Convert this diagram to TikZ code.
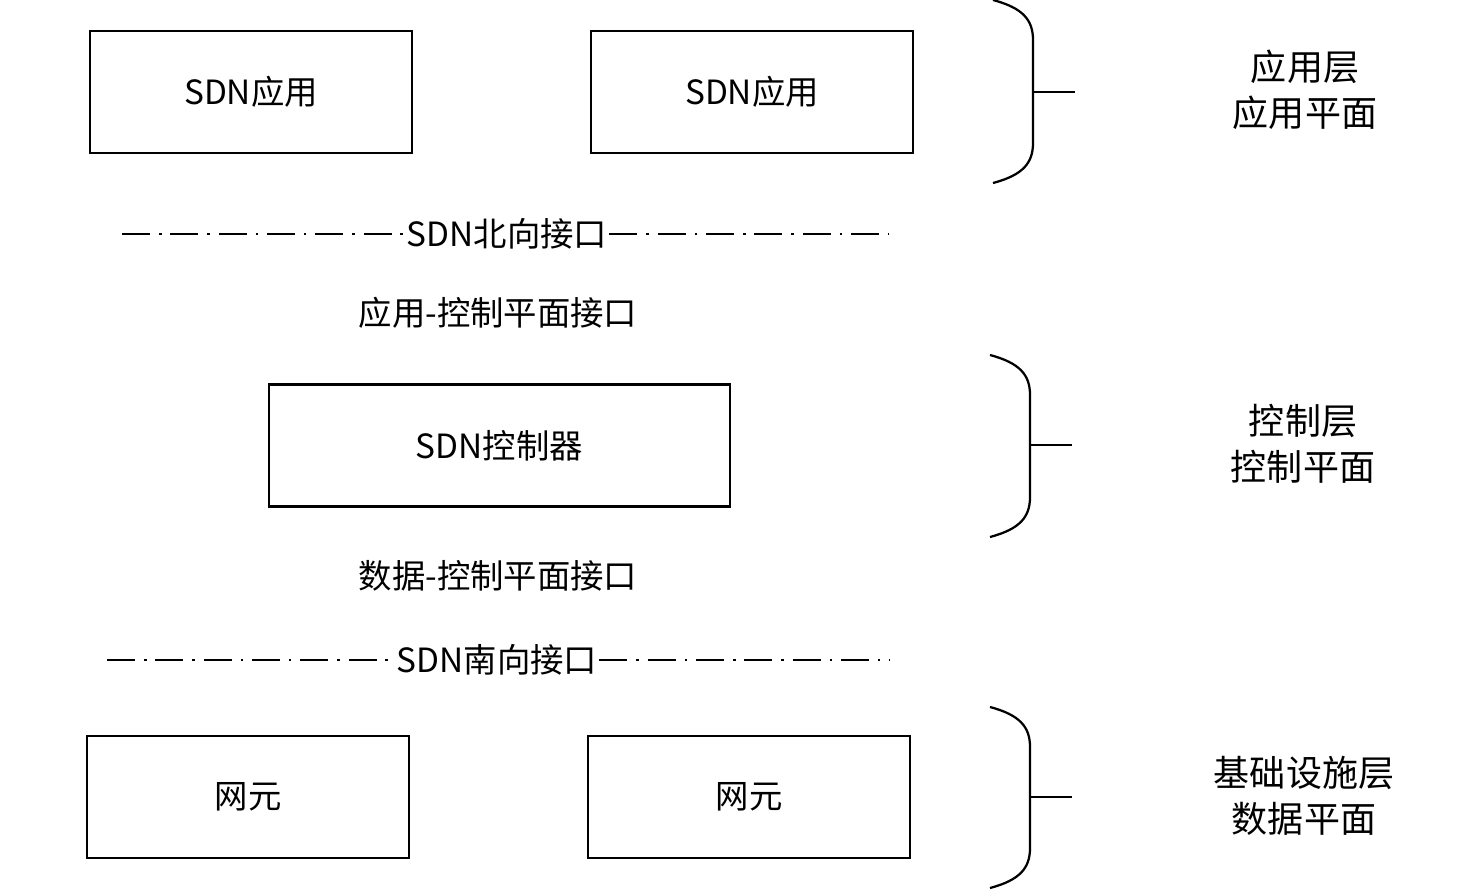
\documentclass[tikz,border=0pt]{standalone}
\usepackage{fontspec}
\setmainfont{Noto Sans CJK SC}
\usetikzlibrary{positioning}
\tikzset{%
  blk/.style={%
    draw,
    line width=0.5mm,
    minimum width=6.44cm,
    minimum height=2.44cm,
    font=\fontsize{19}{23}\selectfont
  },
  lbl/.style={%
    font=\fontsize{19}{23}\selectfont,
    align=center
  },
  lay/.style={%
    font=\fontsize{20.5}{26}\selectfont,
    align=center
  },
  ifc/.style={%
    line width=0.45mm,
    dash pattern=on 16pt off 5pt on 1.5pt off 5pt
  },
  brc/.style={%
    line width=0.45mm
  }
}

\begin{document}
\begin{tikzpicture}[x=0.02cm,y=-0.02cm]
    \useasboundingbox (0,0) rectangle (1468,890);

    % planes
    \node[blk] (app1) at (251,92) {SDN应用};
    \node[blk] (app2) at (752,92) {SDN应用};
    \node[blk,minimum width=9.22cm] (ctl) at (499.5,445.5) {SDN控制器};
    \node[blk] (ne1) at (248,797) {网元};
    \node[blk] (ne2) at (749,797) {网元};

    % interfaces
    \node[lbl,inner sep=1pt] (north) at (507,234) {SDN北向接口};
    \coordinate (nl) at (122,234);
    \coordinate (nr) at (888,234);
    \draw[ifc] (nl) -- (north.west);
    \draw[ifc] (north.east) -- (nr);
    \node[lbl] (acif) at (498,313) {应用-控制平面接口};
    \node[lbl] (dcif) at (498,576) {数据-控制平面接口};
    \node[lbl,inner sep=1pt] (south) at (497,660) {SDN南向接口};
    \coordinate (sl) at (107,660);
    \coordinate (sr) at (890,660);
    \draw[ifc] (sl) -- (south.west);
    \draw[ifc] (south.east) -- (sr);

    % braces
    \foreach \t/\m/\b/\x in {0/92/183/993, 355/445/537/990, 707/797/888/990} {
      \draw[brc] (\x,\t) .. controls (\x+30,\t+8) and (\x+40,\t+20) .. (\x+40,\t+40)
        -- (\x+40,\b-40) .. controls (\x+40,\b-20) and (\x+30,\b-8) .. (\x,\b);
      \draw[brc] (\x+40,\m) -- (\x+82,\m);
    }
    \node[lay] (lay1) at (1305,90) {应用层\\应用平面};
    \node[lay] (lay2) at (1303,444) {控制层\\控制平面};
    \node[lay] (lay3) at (1304,796) {基础设施层\\数据平面};
\end{tikzpicture}
\end{document}
